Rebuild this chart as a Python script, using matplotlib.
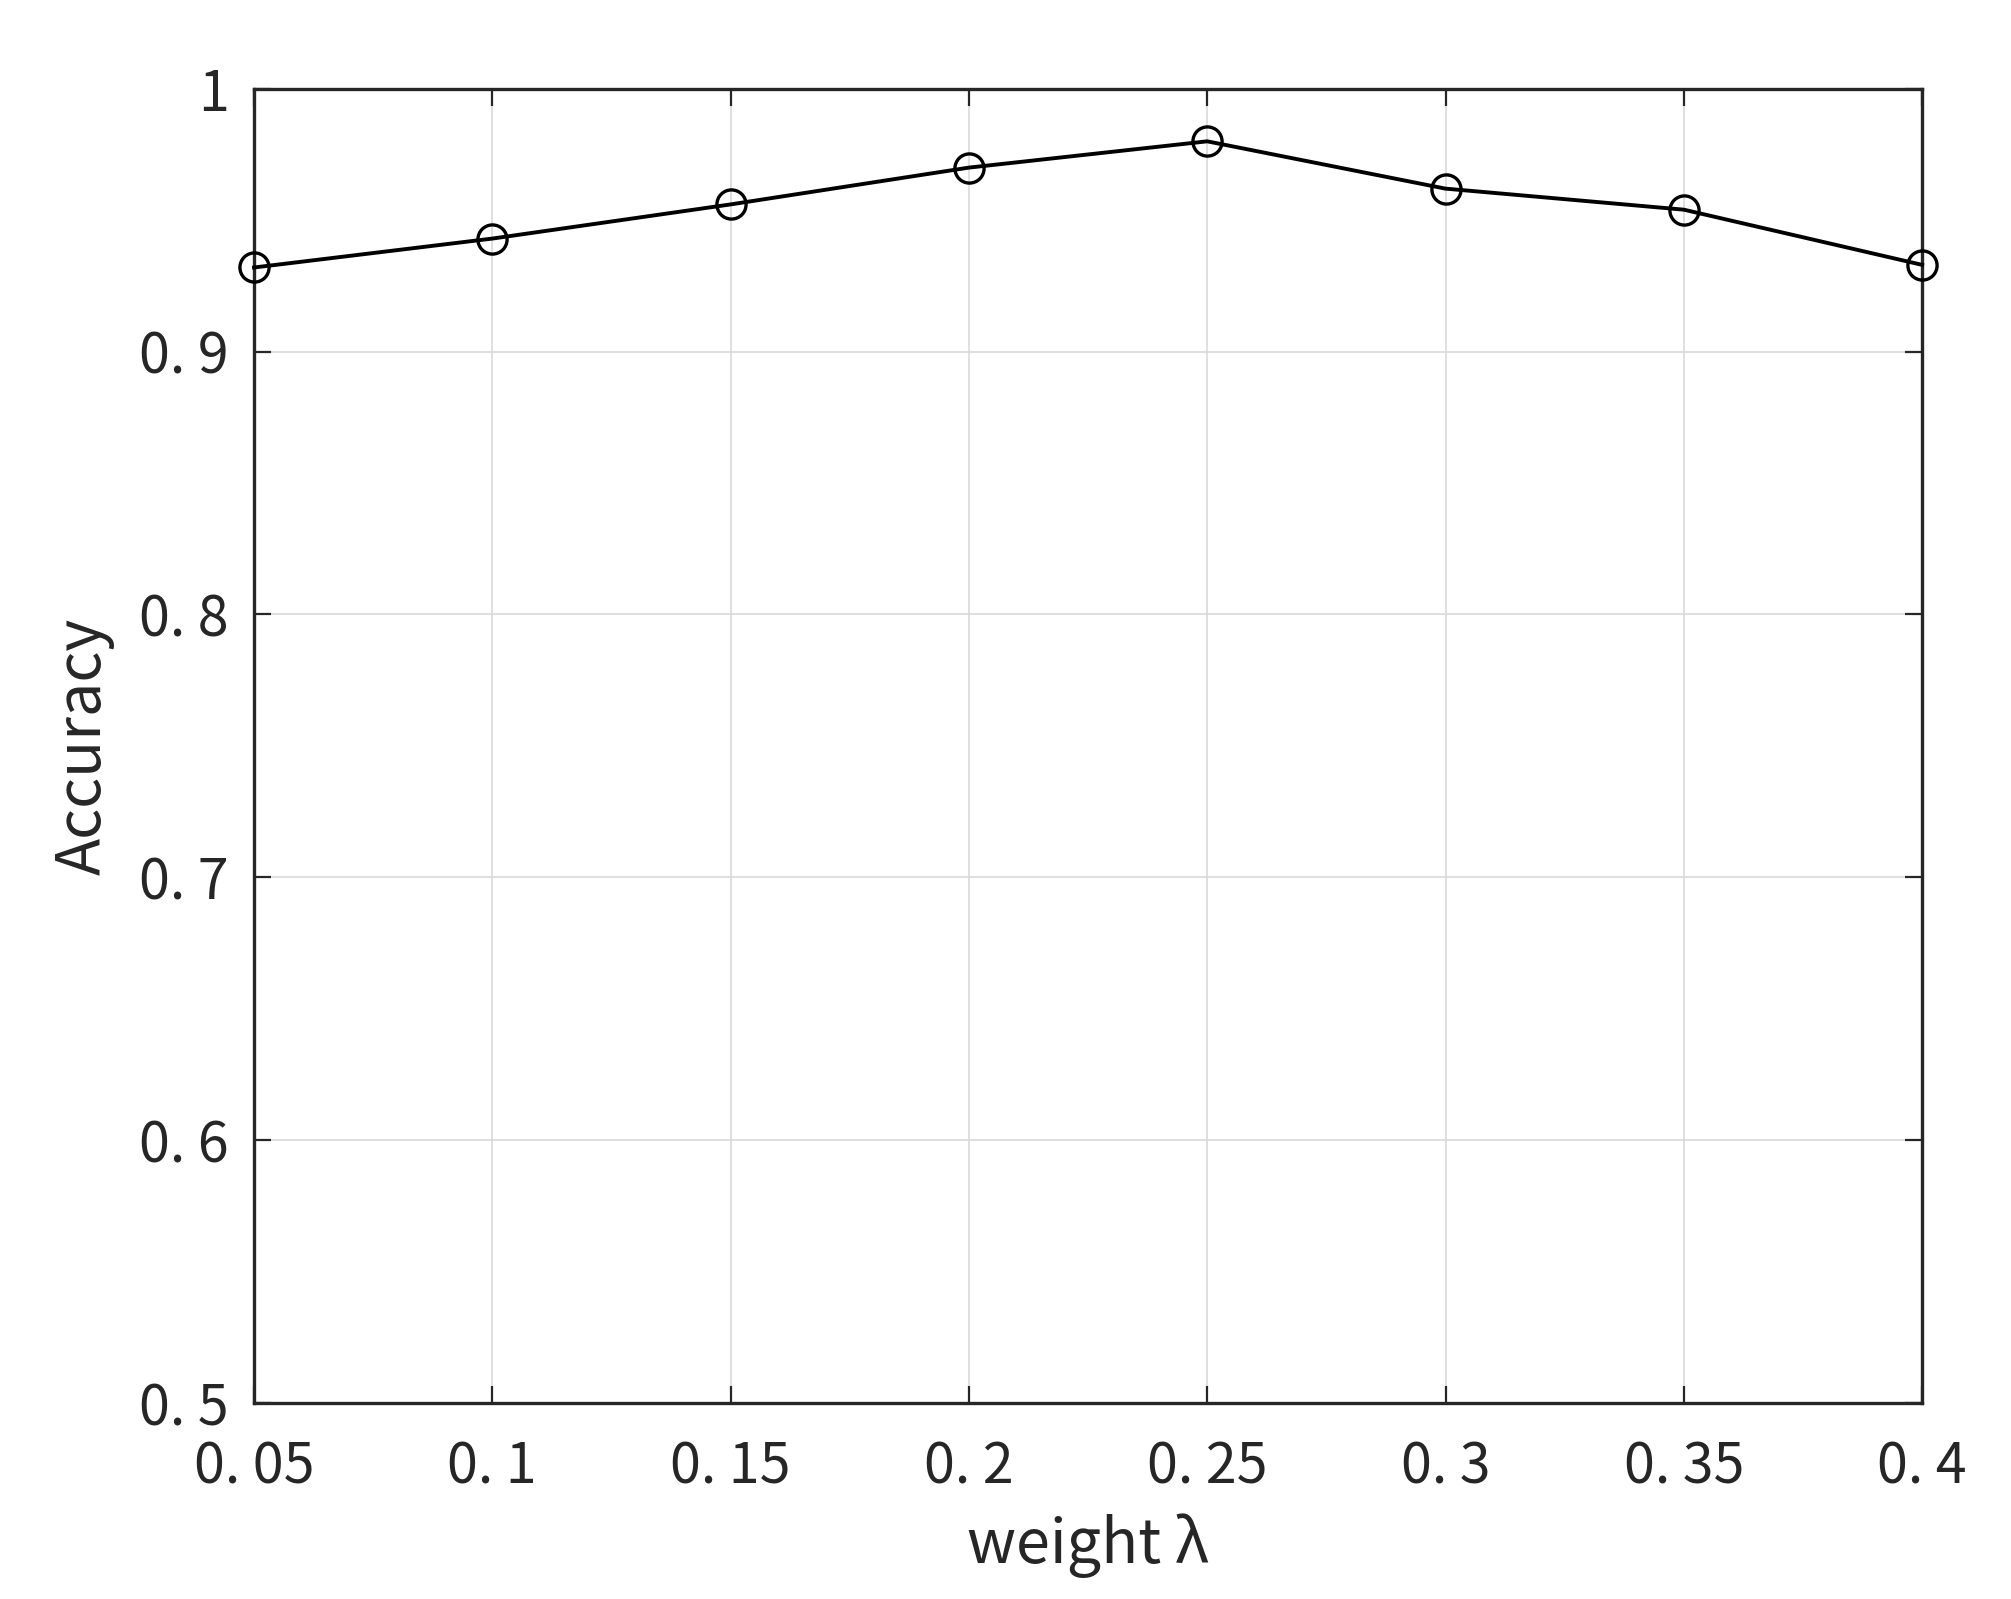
import matplotlib
matplotlib.use("Agg")
import matplotlib.pyplot as plt
import numpy as np

weights = [0.05, 0.1, 0.15, 0.2, 0.25, 0.3, 0.35, 0.4]
accuracy = [0.932, 0.943, 0.956, 0.970, 0.980, 0.962, 0.954, 0.933]
x_labels = ["0. 05", "0. 1", "0. 15", "0. 2", "0. 25", "0. 3", "0. 35", "0. 4"]
y_ticks = [0.5, 0.6, 0.7, 0.8, 0.9, 1.0]
y_labels = ["0. 5", "0. 6", "0. 7", "0. 8", "0. 9", "1"]

plt.rcParams['font.family'] = ['Noto Sans CJK SC', 'DejaVu Sans']

fig = plt.figure(figsize=(20.11, 15.99), dpi=100)
ax = fig.add_axes([0.1263, 0.1225, 0.8295, 0.822])

ax.plot(weights, accuracy, color='black', linewidth=2.8,
        marker='o', markersize=21, markerfacecolor='none',
        markeredgecolor='black', markeredgewidth=2.4, clip_on=False, zorder=3)

ax.set_xlim(0.05, 0.4)
ax.set_ylim(0.5, 1.0)
ax.set_xticks(weights)
ax.set_xticklabels(x_labels)
ax.set_yticks(y_ticks)
ax.set_yticklabels(y_labels)

ax.grid(True, color='#d9d9d9', linewidth=1.2)
ax.tick_params(direction='in', length=12, width=1.6, top=True, right=True,
               labelsize=40, colors='#262626', pad=18)
ax.tick_params(axis='x', pad=26)
for s in ax.spines.values():
    s.set_linewidth(2.4)
    s.set_color('#262626')

ax.set_xlabel("weight λ", fontsize=44, color='#262626', labelpad=12)
ax.set_ylabel("Accuracy", fontsize=44, color='#262626', labelpad=18)

plt.savefig("out.png", dpi=100)
plt.close()
